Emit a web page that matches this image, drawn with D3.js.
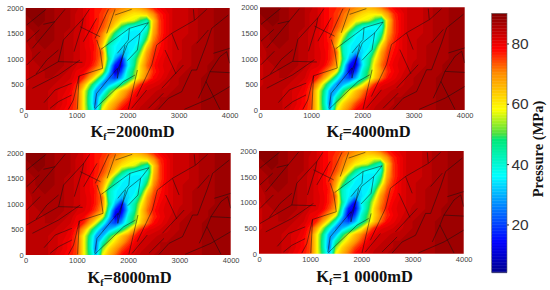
<!DOCTYPE html>
<html>
<head>
<meta charset="utf-8">
<style>
html, body { margin: 0; padding: 0; background: #fff; }
svg { display: block; }
.tick text { font-family: "Liberation Sans", sans-serif; font-size: 7.5px; fill: #444; }
.panel-title { font-family: "Liberation Serif", serif; font-weight: bold; font-size: 16.5px; fill: #111; }
.fracture { fill: none; stroke: #111; stroke-width: 0.6px; stroke-opacity: 0.85; }
</style>
</head>
<body>
<svg width="550" height="290"></svg>
<script src="https://d3js.org/d3.v7.min.js"></script>
<script>
// pressure in MPa, rows run from y=2000 down to y=0, columns x=0..4000 every 125
const gridStep = 125
const pressure = [
  88,88,88,88,87,86,86,85, 84,82,79,77,76,74,72,70,68,66,68,72,76,79,81,82, 82,83,84,85,86,86,87,87,87,
  88,88,88,88,87,86,86,85, 83,82,79,77,75,72,69,66,62,60,60,62,69,76,79,82, 82,83,84,85,86,86,87,87,87,
  87,88,88,88,87,86,86,85, 83,82,79,77,75,71,66,60,58,56,48,42,63,75,79,82, 82,83,84,85,86,86,87,87,87,
  86,87,88,87,87,86,85,85, 83,82,79,77,74,69,60,48,40,37,36,38,65,75,79,82, 82,83,84,85,86,86,87,87,87,
  85,86,87,87,87,86,85,84, 83,81,79,76,71,60,47,37,35,34,35,45,67,75,79,82, 82,83,84,85,86,86,87,87,87,
  85,86,87,87,87,86,85,84, 83,81,79,76,68,52,41,35,34,34,37,52,70,76,80,82, 83,84,84,85,86,86,87,87,87,
  84,86,86,87,86,86,85,84, 83,81,79,77,64,42,36,34,34,35,44,62,73,77,80,82, 83,84,85,85,86,86,87,87,87,
  84,85,86,86,86,86,85,84, 83,81,80,76,72,42,36,30,33,38,52,68,75,78,80,82, 83,84,85,85,86,86,87,87,87,
  83,85,85,86,86,86,85,84, 83,81,80,76,70,46,30,14,36,44,58,70,76,79,81,82, 83,84,85,86,86,86,87,87,87,
  83,84,85,85,86,86,85,84, 82,81,79,74,68,40,16,12,34,46,62,72,77,80,81,82, 84,84,85,86,86,87,87,87,87,
  83,84,84,85,85,85,84,83, 80,79,74,68,58,34,10,20,40,50,62,70,76,79,81,83, 84,85,85,86,86,87,87,87,87,
  83,84,84,85,85,84,83,82, 79,76,68,56,40,24,20,30,42,52,64,72,78,80,82,84, 85,85,86,86,87,87,87,87,87,
  83,84,84,84,84,83,82,80, 76,68,54,40,26,30,38,46,56,68,76,80,81,82,83,84, 85,85,86,86,87,87,87,87,87,
  84,84,84,84,83,82,81,79, 74,60,46,28,30,46,56,64,70,76,80,82,83,84,84,85, 85,85,86,86,87,87,87,87,87,
  84,84,84,84,83,82,80,78, 74,60,44,26,42,54,62,68,74,79,82,83,84,85,85,85, 85,86,86,86,87,87,87,87,87,
  84,84,84,84,83,82,80,78, 74,60,44,24,52,62,68,74,78,81,83,84,84,85,85,85, 85,86,86,86,87,87,87,87,87,
  85,84,84,84,83,81,79,77, 74,60,46,30,58,66,72,78,80,82,84,84,85,85,85,85, 85,86,86,86,87,87,87,87,87
]
const gridCols = 33
const gridRows = 17

const xTicks = [0, 1000, 2000, 3000, 4000]
const yTicks = [0, 500, 1000, 1500, 2000]
const colorTicks = [20, 40, 60, 80]
const pressureMin = 4
const pressureMax = 90

const colorStops = [4, 14, 27, 36, 48, 50, 58, 70, 78, 90]
const colorValues = ["#00008f", "#0000ff", "#0090ff", "#00ffff", "#00e878", "#50e040", "#ffff00", "#ff8c00", "#ff0000", "#800000"]

const titles = ["2000mD", "4000mD", "8000mD", "1 0000mD"]

// fracture traces in model coordinates
const fractures = [
  [[20,1667],[399,1974]],
  [[131,1209],[542,1699],[771,1974]],
  [[346,1680],[575,1732]],
  [[20,1340],[268,1569]],
  [[20,882],[281,1144]],
  [[203,706],[412,980],[641,1176]],
  [[20,588],[641,948],[739,1373],[1131,1797],[1248,1974]],
  [[641,948],[1111,935]],
  [[131,425],[641,686],[1065,980]],
  [[948,1144],[1098,1634],[1131,1797]],
  [[1131,1340],[1392,1797]],
  [[1065,1634],[1458,1438]],
  [[1359,1405],[1621,1974]],
  [[1392,1373],[1458,1176],[1510,817],[1046,667],[935,196],[837,13]],
  [[1046,667],[1013,13]],
  [[359,144],[575,392],[902,523]],
  [[477,33],[641,163],[902,294]],
  [[1588,1503],[1752,1974]],
  [[1752,1863],[2078,1974]],
  [[1477,1190],[2033,1601],[2013,1373],[1797,1111]],
  [[1804,784],[2000,1307],[2242,1503],[2405,1712],[2033,1601]],
  [[2242,1503],[2190,1176],[1993,967]],
  [[1346,33],[1392,327],[1797,817],[1797,621],[1948,1275]],
  [[1346,13],[1915,556],[2144,686]],
  [[2013,13],[2190,784]],
  [[2078,33],[2373,392]],
  [[2176,261],[2471,882],[2569,1275],[2863,1503],[2994,1176]],
  [[2863,1503],[3320,1765],[3549,1974]],
  [[3307,1765],[3288,1974]],
  [[2732,1176],[2948,706]],
  [[2667,425],[3092,882]],
  [[2405,33],[2699,327]],
  [[2601,13],[2797,229],[3059,359],[3255,784],[3353,784],[3549,1307],[3647,1601],[3974,1863]],
  [[3353,1307],[3582,1569]],
  [[3111,13],[3614,229],[4000,458]],
  [[3386,229],[3536,556],[3810,13]],
  [[3536,556],[3614,752],[4000,732]],
  [[3614,752],[3810,1046],[3941,1144],[4000,915]],
  [[3680,1111],[4000,1209]]
]

const panels = [
  {left: 25.7, right: 229.7, top: 8, bottom: 110, tx: 132.5, ty: 137},
  {left: 260, right: 464.7, top: 7.3, bottom: 110, tx: 368.5, ty: 137},
  {left: 25.7, right: 230.7, top: 153, bottom: 255, tx: 129.5, ty: 282.5},
  {left: 259, right: 463.7, top: 151, bottom: 253.7, tx: 364.5, ty: 282}
]

const svg = d3.select('svg')
const color = d3.scaleLinear().domain(colorStops).range(colorValues)

const defs = svg.append('defs')
defs.append('filter').attr('id', 'soft')
  .attr('x', '-5%').attr('y', '-5%').attr('width', '110%').attr('height', '110%')
  .append('feGaussianBlur').attr('stdDeviation', 0.5)

const levels = d3.range(pressureMin, pressureMax, 1.5)
const bands = d3.contours().size([gridCols, gridRows]).thresholds(levels)(pressure)

panels.forEach(function (p, i) {
  const x = d3.scaleLinear().domain([0, 4000]).range([p.left, p.right])
  const y = d3.scaleLinear().domain([0, 2000]).range([p.bottom, p.top])

  // contour coordinates have grid nodes at cell centres
  const toPlot = d3.geoTransform({
    point: function (cx, cy) {
      this.stream.point(x((cx - 0.5) * gridStep), y(2000 - (cy - 0.5) * gridStep))
    }
  })
  const path = d3.geoPath(toPlot)

  defs.append('clipPath').attr('id', 'clip' + i)
    .append('rect')
    .attr('x', p.left).attr('y', p.top)
    .attr('width', p.right - p.left).attr('height', p.bottom - p.top)

  const g = svg.append('g').attr('clip-path', 'url(#clip' + i + ')')
  g.append('g').attr('filter', 'url(#soft)')
    .selectAll('path')
    .data(bands)
    .enter().append('path')
    .attr('d', path)
    .attr('fill', function (d) { return color(d.value + 0.75) })

  const line = d3.line().x(function (d) { return x(d[0]) }).y(function (d) { return y(d[1]) })
  g.selectAll('.fracture')
    .data(fractures)
    .enter().append('path')
    .attr('class', 'fracture')
    .attr('d', line)

  const xAxis = svg.append('g')
    .attr('transform', 'translate(0,' + p.bottom + ')')
    .call(d3.axisBottom(x).tickValues(xTicks).tickFormat(d3.format('d')).tickSize(0).tickPadding(3))
  const yAxis = svg.append('g')
    .attr('transform', 'translate(' + p.left + ',0)')
    .call(d3.axisLeft(y).tickValues(yTicks).tickFormat(d3.format('d')).tickSize(0).tickPadding(2))
  xAxis.select('.domain').remove()
  yAxis.select('.domain').remove()

  const title = svg.append('text')
    .attr('class', 'panel-title')
    .attr('x', p.tx).attr('y', p.ty)
    .attr('text-anchor', 'middle')
  title.append('tspan').text('K')
  title.append('tspan').text('f').attr('dy', 3).style('font-size', '10px')
  title.append('tspan').text('=' + titles[i]).attr('dy', -3)
})

// colour bar
const barLeft = 491.7, barWidth = 15.3, barTop = 13.3, barBottom = 272.7
const barScale = d3.scaleLinear().domain([pressureMin, pressureMax]).range([barBottom, barTop])
const barSteps = d3.range(pressureMin, pressureMax, 0.5)
svg.append('g').selectAll('rect')
  .data(barSteps)
  .enter().append('rect')
  .attr('x', barLeft)
  .attr('width', barWidth)
  .attr('y', function (d) { return barScale(d + 0.5) })
  .attr('height', function (d) { return barScale(d) - barScale(d + 0.5) + 0.4 })
  .attr('fill', function (d) { return color(d) })
svg.append('rect')
  .attr('x', barLeft).attr('y', barTop).attr('width', barWidth).attr('height', barBottom - barTop)
  .attr('fill', 'none').attr('stroke', '#666').attr('stroke-width', 0.6)

const barAxis = svg.append('g')
  .attr('transform', 'translate(' + (barLeft + barWidth) + ',0)')
  .call(d3.axisRight(barScale).tickValues(colorTicks).tickSize(2).tickPadding(2.5))
barAxis.select('.domain').remove()
barAxis.selectAll('line').attr('stroke', '#333')
barAxis.selectAll('text').style('font-size', '15.5px').style('fill', '#333')

svg.append('text')
  .attr('transform', 'translate(543,149) rotate(-90)')
  .attr('text-anchor', 'middle')
  .style('font-family', '"Liberation Serif", serif')
  .style('font-weight', 'bold')
  .style('font-size', '14.5px')
  .style('fill', '#111')
  .text('Pressure (MPa)')
</script>
</body>
</html>
